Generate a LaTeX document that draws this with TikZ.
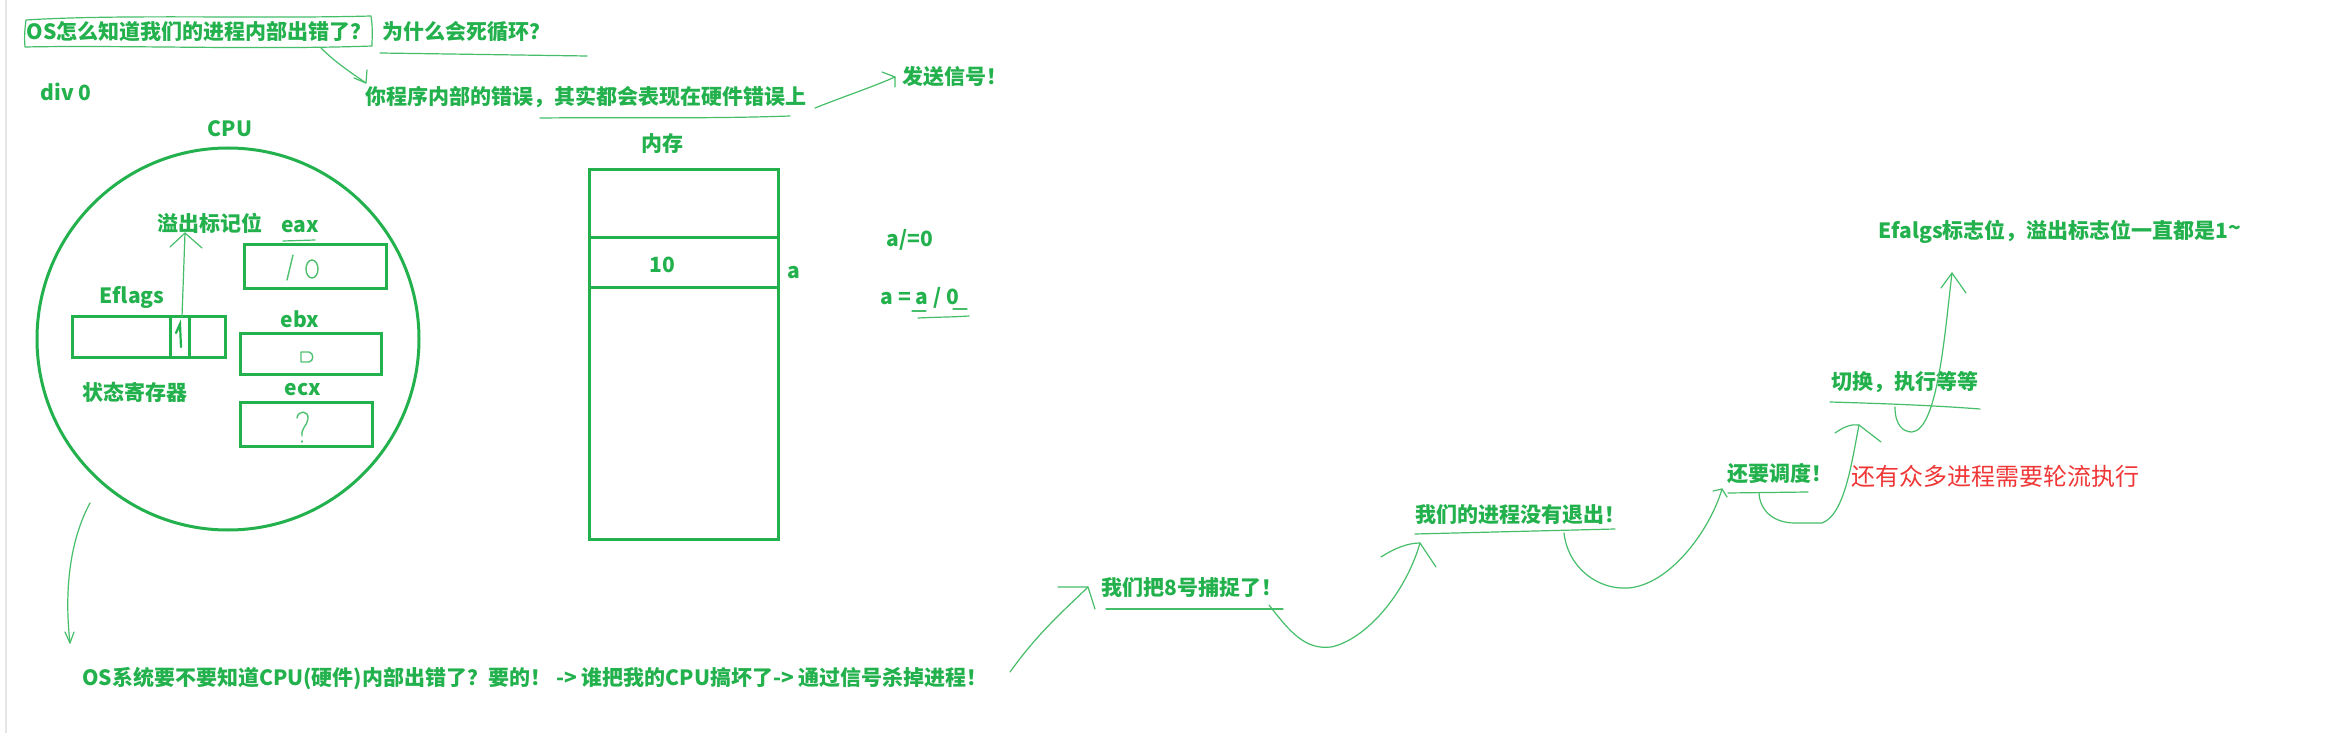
\documentclass[tikz,border=0pt]{standalone}
\usepackage{fontspec}
\setmainfont{Noto Sans CJK SC}
\usetikzlibrary{arrows.meta}
\definecolor{pg}{RGB}{34,177,76}
\definecolor{pr}{RGB}{240,55,55}
\definecolor{hg}{RGB}{70,190,105}
\begin{document}
\begin{tikzpicture}[x=0.5pt,y=-0.5pt,
  lbl/.style={text=pg,font=\bfseries\fontsize{10.5}{12}\selectfont,inner sep=0pt},
  redlbl/.style={text=pr,font=\fontsize{12}{14}\selectfont,inner sep=0pt},
  hand/.style={draw=hg,line width=0.6pt,line cap=round,line join=round},
  ink/.style={draw=pg!80,line width=0.7pt,line cap=round,line join=round},
  reg/.style={draw=pg,line width=1.5pt},
]
\useasboundingbox (0,0) rectangle (2326,733);
\fill[white] (0,0) rectangle (2326,733);
\draw[black!10,line width=1pt] (6,0) -- (6,733);

% ---------- texts ----------
\node[lbl] (title) at (199,32) {OS怎么知道我们的进程内部出错了？};
\node[lbl] (why) at (466,32) {为什么会死循环？};
\node[lbl] (div) at (66,92) {div 0};
\node[lbl] (hw) at (586,97) {你程序内部的错误，其实都会表现在硬件错误上};
\node[lbl] (sig) at (955,77) {发送信号！};
\node[lbl] (cpu) at (230,129) {CPU};
\node[lbl] (of) at (210,223) {溢出标记位};
\node[lbl] (eax) at (300,227) {eax};
\node[lbl] (efl) at (132,297) {Eflags};
\node[lbl] (ebx) at (300,319) {ebx};
\node[lbl] (st) at (135,392) {状态寄存器};
\node[lbl] (ecx) at (303,390) {ecx};
\node[lbl] (mem) at (662,144) {内存};
\node[lbl] (ten) at (662,265) {10};
\node[lbl] (va) at (794,273) {a};
\node[lbl] (ad) at (910,240) {a/=0};
\node[lbl] (aeq) at (920,298) {a = a / 0};
\node[lbl] (efa) at (2060,232) {Efalgs标志位，溢出标志位一直都是1\raisebox{0.15em}{\textasciitilde}};
\node[lbl] (sw) at (1905,382) {切换，执行等等};
\node[lbl] (sch) at (1780,474) {还要调度！};
\node[redlbl] (many) at (1995,476) {还有众多进程需要轮流执行};
\node[lbl] (cap) at (1192,588) {我们把8号捕捉了！};
\node[lbl] (noexit) at (1520,515) {我们的进程没有退出！};
\node[lbl] (os) at (535,679) {OS系统要不要知道CPU(硬件)内部出错了？要的！ -> 谁把我的CPU搞坏了-> 通过信号杀掉进程！};

% ---------- CPU ----------
\draw[reg] (228,339) circle[radius=191];
\draw[reg] (244,244) rectangle (386,288);
\draw[reg] (72,316) rectangle (225,357);
\draw[reg] (170,316) -- (170,357);
\draw[reg] (189,316) -- (189,357);
\draw[reg] (240,333) rectangle (381,374);
\draw[reg] (240,402) rectangle (372,446);
% handwriting in registers
\draw[ink] (287,280) -- (293,255);
\draw[ink] (312,269) ellipse [x radius=6, y radius=9];
\draw[ink] (301,352) -- (301,362) -- (309,362) .. controls (314,361) and (314,353) .. (309,352) -- cycle;
\draw[ink] (297,418) .. controls (298,410) and (309,410) .. (308,419) .. controls (307,426) and (301,428) .. (302,436);
\draw[ink] (302,441) -- (302,442);
\draw[draw=pg,line width=1.1pt,line cap=round] (176,333) -- (180,324) -- (181,347);
% overflow arrow
\coordinate (ofs) at (182,317);
\coordinate (oft) at (185,233);
\draw[hand] (ofs) -- (oft);
\draw[hand] (170,247) -- (oft) -- (202,248);
\draw[hand] (283,241) -- (315,240);

% ---------- memory ----------
\draw[reg] (589,170) rectangle (778,539);
\draw[reg] (589,237) -- (778,237);
\draw[reg] (589,287) -- (778,287);
\draw[hand] (912,311) -- (926,311);
\draw[hand] (953,309) -- (967,309);
\draw[hand] (918,318) .. controls (940,317) and (955,317) .. (969,316);

% ---------- top strokes ----------
\draw[hand] (26,20) .. controls (120,14) and (260,19) .. (371,16) .. controls (373,28) and (372,38) .. (372,46) .. controls (260,50) and (120,45) .. (25,47) .. controls (24,36) and (25,28) .. (26,20);
\coordinate (t1) at (321,48);
\coordinate (t2) at (366,83);
\draw[hand] (t1) .. controls (335,62) and (350,72) .. (t2);
\draw[hand] (354,78) -- (t2) -- (367,70);
\draw[hand] (380,53) -- (587,56);
\draw[hand] (540,118) .. controls (650,117) and (700,119) .. (790,116);
\coordinate (s1) at (815,108);
\coordinate (s2) at (895,77);
\draw[hand] (s1) .. controls (845,96) and (870,88) .. (s2);
\draw[hand] (882,72) -- (s2) -- (895,87);

% ---------- left arrow ----------
\coordinate (l1) at (90,503);
\coordinate (l2) at (70,643);
\draw[hand] (l1) .. controls (70,540) and (64,590) .. (l2);
\draw[hand] (65,632) -- (l2) -- (74,632);

% ---------- chain ----------
\coordinate (c1) at (1010,672);
\coordinate (c2) at (1088,587);
\draw[hand] (c1) .. controls (1040,630) and (1070,605) .. (c2);
\draw[hand] (1058,587) -- (c2) -- (1095,609);
\draw[hand] (1106,609) -- (1283,609);

\coordinate (d1) at (1269,605);
\coordinate (d2) at (1420,543);
\draw[hand] (d1) .. controls (1290,632) and (1305,650) .. (1331,647) .. controls (1365,640) and (1405,595) .. (d2);
\draw[hand] (1381,557) .. controls (1395,548) and (1408,543) .. (d2) -- (1436,567);
\draw[hand] (1415,534) -- (1615,529);

\coordinate (e1) at (1564,533);
\coordinate (e2) at (1722,489);
\draw[hand] (e1) .. controls (1568,568) and (1598,590) .. (1628,588) .. controls (1670,585) and (1710,530) .. (e2);
\draw[hand] (1713,491) -- (e2) -- (1727,497);
\draw[hand] (1728,493) -- (1808,492);

\coordinate (f1) at (1759,493);
\coordinate (f2) at (1859,425);
\draw[hand] (f1) .. controls (1760,512) and (1775,523) .. (1795,523) -- (1822,523) .. controls (1845,515) and (1852,460) .. (f2);
\draw[hand] (1835,433) .. controls (1845,426) and (1852,424) .. (f2) -- (1881,442);
\draw[hand] (1830,402) .. controls (1900,404) and (1940,406) .. (1980,409);

\coordinate (g1) at (1895,407);
\coordinate (g2) at (1952,273);
\draw[hand] (g1) .. controls (1895,425) and (1903,432) .. (1912,432) .. controls (1938,430) and (1945,330) .. (g2);
\draw[hand] (1941,288) -- (g2) -- (1966,293);
\end{tikzpicture}
\end{document}
